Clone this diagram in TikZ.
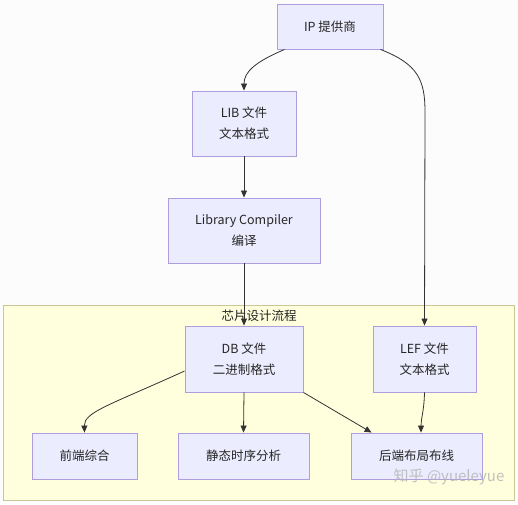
\documentclass[tikz,border=0pt]{standalone}
\usepackage{fontspec}
\setmainfont{Noto Sans CJK SC}
\usetikzlibrary{arrows.meta,calc}
\definecolor{nodefill}{HTML}{ECECFF}
\definecolor{nodeline}{HTML}{AE9EDF}
\definecolor{clfill}{HTML}{FFFFDE}
\definecolor{clline}{HTML}{C8C896}
\definecolor{edge}{HTML}{333333}
\definecolor{bg}{HTML}{FCFCFC}
\tikzset{
  box/.style={draw=nodeline, fill=nodefill, line width=0.9pt, inner sep=0pt, align=center,
    font=\fontsize{12.5}{21}\selectfont, text=black!85},
  link/.style={draw=edge, line width=0.8pt, -{Triangle[length=7pt,width=6pt]}},
}
\begin{document}
\begin{tikzpicture}[x=1pt,y=-1pt]
\useasboundingbox[fill=bg] (0,0) rectangle (518,504);
% cluster
\node[draw=clline, fill=clfill, line width=0.9pt, minimum width=511pt, minimum height=195pt, inner sep=0pt] (cluster) at (258.5,402.5) {};
\node[font=\fontsize{12.5}{15}\selectfont, text=black!85] (cllabel) at (259,316) {芯片设计流程};
% nodes
\node[box, minimum width=106pt, minimum height=45pt] (ip) at (330,26.5) {IP 提供商};
\node[box, minimum width=104pt, minimum height=65pt] (lib) at (244,123.5) {LIB 文件\\文本格式};
\node[box, minimum width=152pt, minimum height=65pt] (lc) at (244,230.5) {Library Compiler\\编译};
\node[box, minimum width=118pt, minimum height=66pt] (db) at (244,359) {DB 文件\\二进制格式};
\node[box, minimum width=103pt, minimum height=66pt] (lef) at (424.5,359) {LEF 文件\\文本格式};
\node[box, minimum width=105pt, minimum height=46pt] (fe) at (84.5,456) {前端综合};
\node[box, minimum width=131pt, minimum height=46pt] (sta) at (243.5,456) {静态时序分析};
\node[box, minimum width=131pt, minimum height=46pt] (be) at (416.5,456) {后端布局布线};
% edges
\draw[link] ([xshift=8pt]ip.south west) .. controls (255,62) and (244,72) .. (lib.north);
\draw[link] ([xshift=-3pt]ip.south east) .. controls (418,64) and (425,80) .. (425,112) -- (lef.north);
\draw[link] (lib.south) -- (lc.north);
\draw[link] (lc.south) -- (db.north);
\draw[link] ([yshift=-12pt]db.west) .. controls (110,405) and (84,412) .. (fe.north);
\draw[link] (db.south) -- (sta.north);
\draw[link] (db.south east) -- ([xshift=21pt]be.north west);
\draw[link] (lef.south) .. controls (424,412) and (421,418) .. ([xshift=4.5pt]be.north);
% watermark
\node[font=\fontsize{15}{18}\selectfont, text=gray!60, opacity=0.8] (wm) at (449,477) {知乎 @yueleyue};
\end{tikzpicture}
\end{document}
